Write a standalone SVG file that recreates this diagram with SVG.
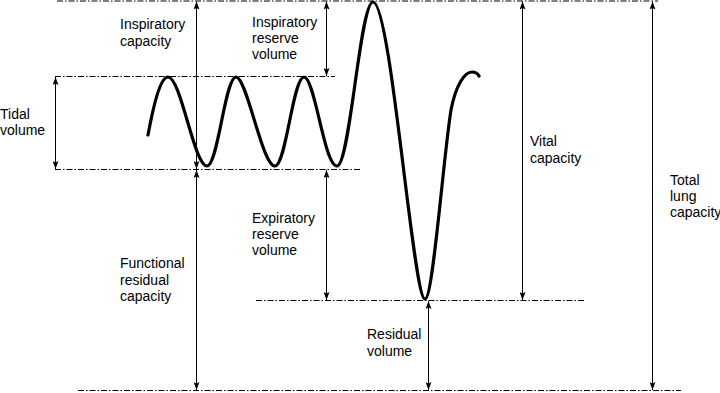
<svg xmlns="http://www.w3.org/2000/svg" width="720" height="393" viewBox="0 0 720 393">
<defs>
<marker id="ah" viewBox="0 0 8 6" refX="8" refY="3" markerWidth="8" markerHeight="6" orient="auto-start-reverse" markerUnits="userSpaceOnUse">
<path d="M0,0 L8,3 L0,6 L1.5,3 z" fill="#000"/>
</marker>
<style>
.ref{stroke:#000;stroke-width:1;stroke-dasharray:6 2 1.5 2;fill:none}
.arr{stroke:#000;stroke-width:1;fill:none;marker-start:url(#ah);marker-end:url(#ah)}
.lbl{font-family:"Liberation Sans",Arial,sans-serif;font-size:14px;fill:#000}
.curve{stroke:#000;stroke-width:3.2;fill:none;stroke-linecap:round;stroke-linejoin:round}
</style>
</defs>
<rect width="720" height="393" fill="#fff"/>
<g id="reference-lines">
<line class="ref" x1="57" y1="1" x2="658" y2="1"/>
<line class="ref" x1="55" y1="76.5" x2="335" y2="76.5"/>
<line class="ref" x1="55" y1="169.5" x2="360" y2="169.5"/>
<line class="ref" x1="256" y1="300.5" x2="586" y2="300.5"/>
<line class="ref" x1="78" y1="390.5" x2="681" y2="390.5"/>
</g>
<g id="breathing-curve">
<path class="curve" d="M148,135 C153,108 160,77 168,77 C181,77 194,166 207,166 C218,166 225,77 236,77 C247,77 262,166 275,166 C286,166 293,77 304,77 C315,77 324,166 337,166 C350,166 360,2 373,2 C391,2 413,299 425,299 C433,299 443,160 451,110 C456,84 465,72 472,72 C476,72 478,74 479,76"/>
</g>
<g id="connectors">
<line class="arr" x1="55.5" y1="77" x2="55.5" y2="169"/>
<line class="arr" x1="196.5" y1="1.5" x2="196.5" y2="169"/>
<line class="arr" x1="196.5" y1="170" x2="196.5" y2="390"/>
<line class="arr" x1="326.5" y1="1.5" x2="326.5" y2="76"/>
<line class="arr" x1="326.5" y1="170" x2="326.5" y2="300"/>
<line class="arr" x1="428.5" y1="301" x2="428.5" y2="390"/>
<line class="arr" x1="522.5" y1="1.5" x2="522.5" y2="300"/>
<line class="arr" x1="652.5" y1="1.5" x2="652.5" y2="390"/>
</g>
<g id="tidal-volume"><text class="lbl" x="0" y="119">Tidal</text><text class="lbl" x="0" y="135">volume</text></g>
<g id="inspiratory-capacity"><text class="lbl" x="120" y="29">Inspiratory</text><text class="lbl" x="120" y="46">capacity</text></g>
<g id="inspiratory-reserve-volume"><text class="lbl" x="252" y="27">Inspiratory</text><text class="lbl" x="252" y="43">reserve</text><text class="lbl" x="252" y="59">volume</text></g>
<g id="expiratory-reserve-volume"><text class="lbl" x="252" y="223">Expiratory</text><text class="lbl" x="252" y="239">reserve</text><text class="lbl" x="252" y="255">volume</text></g>
<g id="functional-residual-capacity"><text class="lbl" x="120" y="268">Functional</text><text class="lbl" x="120" y="285">residual</text><text class="lbl" x="120" y="301">capacity</text></g>
<g id="residual-volume"><text class="lbl" x="367" y="339">Residual</text><text class="lbl" x="367" y="356">volume</text></g>
<g id="vital-capacity"><text class="lbl" x="530" y="146">Vital</text><text class="lbl" x="530" y="163">capacity</text></g>
<g id="total-lung-capacity"><text class="lbl" x="670" y="185">Total</text><text class="lbl" x="670" y="201">lung</text><text class="lbl" x="670" y="217">capacity</text></g>
</svg>
